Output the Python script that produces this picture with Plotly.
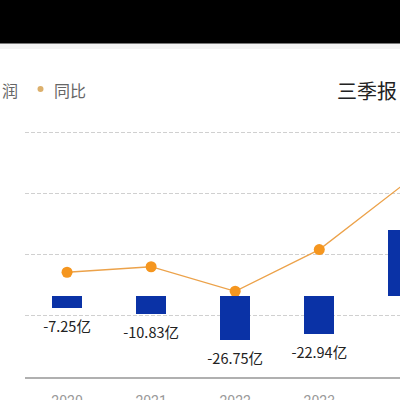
import plotly.graph_objects as go

years = ["2020", "2021", "2022", "2023", "2024"]
profit = [-7.25, -10.83, -26.75, -22.94, 40.31]
yoy = [-29, -20, -60, 8, 114]
legend_bar_text = "润"
legend_line_text = "同比"
title_text = "三季报"

W, H = 400, 400
L, R, T, B = 25, 0, 120, 23
PW, PH = W - L - R, H - T - B

def px(x):
    return (x - L) / PW

def py(y):
    return (H - B - y) / PH

fig = go.Figure()
fig.add_trace(go.Bar(
    x=years, y=profit, yaxis="y2", width=0.36,
    marker=dict(color="#0a32a6", line=dict(width=0)),
    showlegend=False, cliponaxis=False,
))
fig.add_trace(go.Scatter(
    x=years, y=profit, yaxis="y2", mode="markers+text",
    text=[f"{v:.2f}亿" for v in profit],
    textposition=["bottom center" if v < 0 else "top center" for v in profit],
    marker=dict(size=20, opacity=0),
    textfont=dict(family="Noto Sans CJK SC", size=14.5, color="#222"),
    showlegend=False, cliponaxis=False, hoverinfo="skip",
))
fig.add_trace(go.Scatter(
    x=years, y=yoy, mode="lines+markers",
    line=dict(color="#eca24a", width=1.3),
    marker=dict(color="#f5961f", size=11),
    showlegend=False, cliponaxis=False,
))

annotations = [
    dict(x=px(0), y=py(90), xref="paper", yref="paper", text=legend_bar_text,
         showarrow=False, xanchor="left", yanchor="middle",
         font=dict(family="Noto Sans CJK SC", size=16, color="#666")),
    dict(x=px(52), y=py(90), xref="paper", yref="paper", text=legend_line_text,
         showarrow=False, xanchor="left", yanchor="middle",
         font=dict(family="Noto Sans CJK SC", size=16, color="#666")),
    dict(x=px(399), y=py(90), xref="paper", yref="paper", text=title_text,
         showarrow=False, xanchor="right", yanchor="middle",
         font=dict(family="Noto Sans CJK SC", size=20, color="#222")),
]

shapes = [
    dict(type="rect", xref="paper", yref="paper", x0=px(-5), x1=px(405),
         y0=py(49), y1=py(43), fillcolor="#f3f3f3", line=dict(width=0), layer="below"),
    dict(type="rect", xref="paper", yref="paper", x0=px(-5), x1=px(405),
         y0=py(43.5), y1=py(-5), fillcolor="#000000", line=dict(width=0)),
    dict(type="circle", xref="paper", yref="paper", x0=px(37.5), x1=px(43.5),
         y0=py(92), y1=py(86), fillcolor="#dcb06c", line=dict(width=0)),
]

fig.update_layout(
    width=W, height=H,
    margin=dict(l=L, r=R, t=T, b=B),
    paper_bgcolor="white", plot_bgcolor="white",
    xaxis=dict(type="category", range=[-0.5, 3.96], showline=True,
               linecolor="#b0b0b0", linewidth=1.5, ticks="", showgrid=False,
               ticklabelstandoff=10, automargin=False,
               tickfont=dict(family="Roboto", size=14, color="#999")),
    yaxis=dict(range=[-200, -200 + PH / 0.6125], tickvals=[-100, 0, 100, 200],
               showticklabels=False, showgrid=True, gridcolor="#d0d0d0",
               griddash="4px,2px", gridwidth=1, zeroline=False, automargin=False),
    yaxis2=dict(overlaying="y", range=[-(H - B - 296) / 1.64, (296 - T) / 1.64],
                showticklabels=False, showgrid=False, zeroline=False, automargin=False),
    annotations=annotations, shapes=shapes,
    bargap=0,
)
fig.write_html("out.html")
